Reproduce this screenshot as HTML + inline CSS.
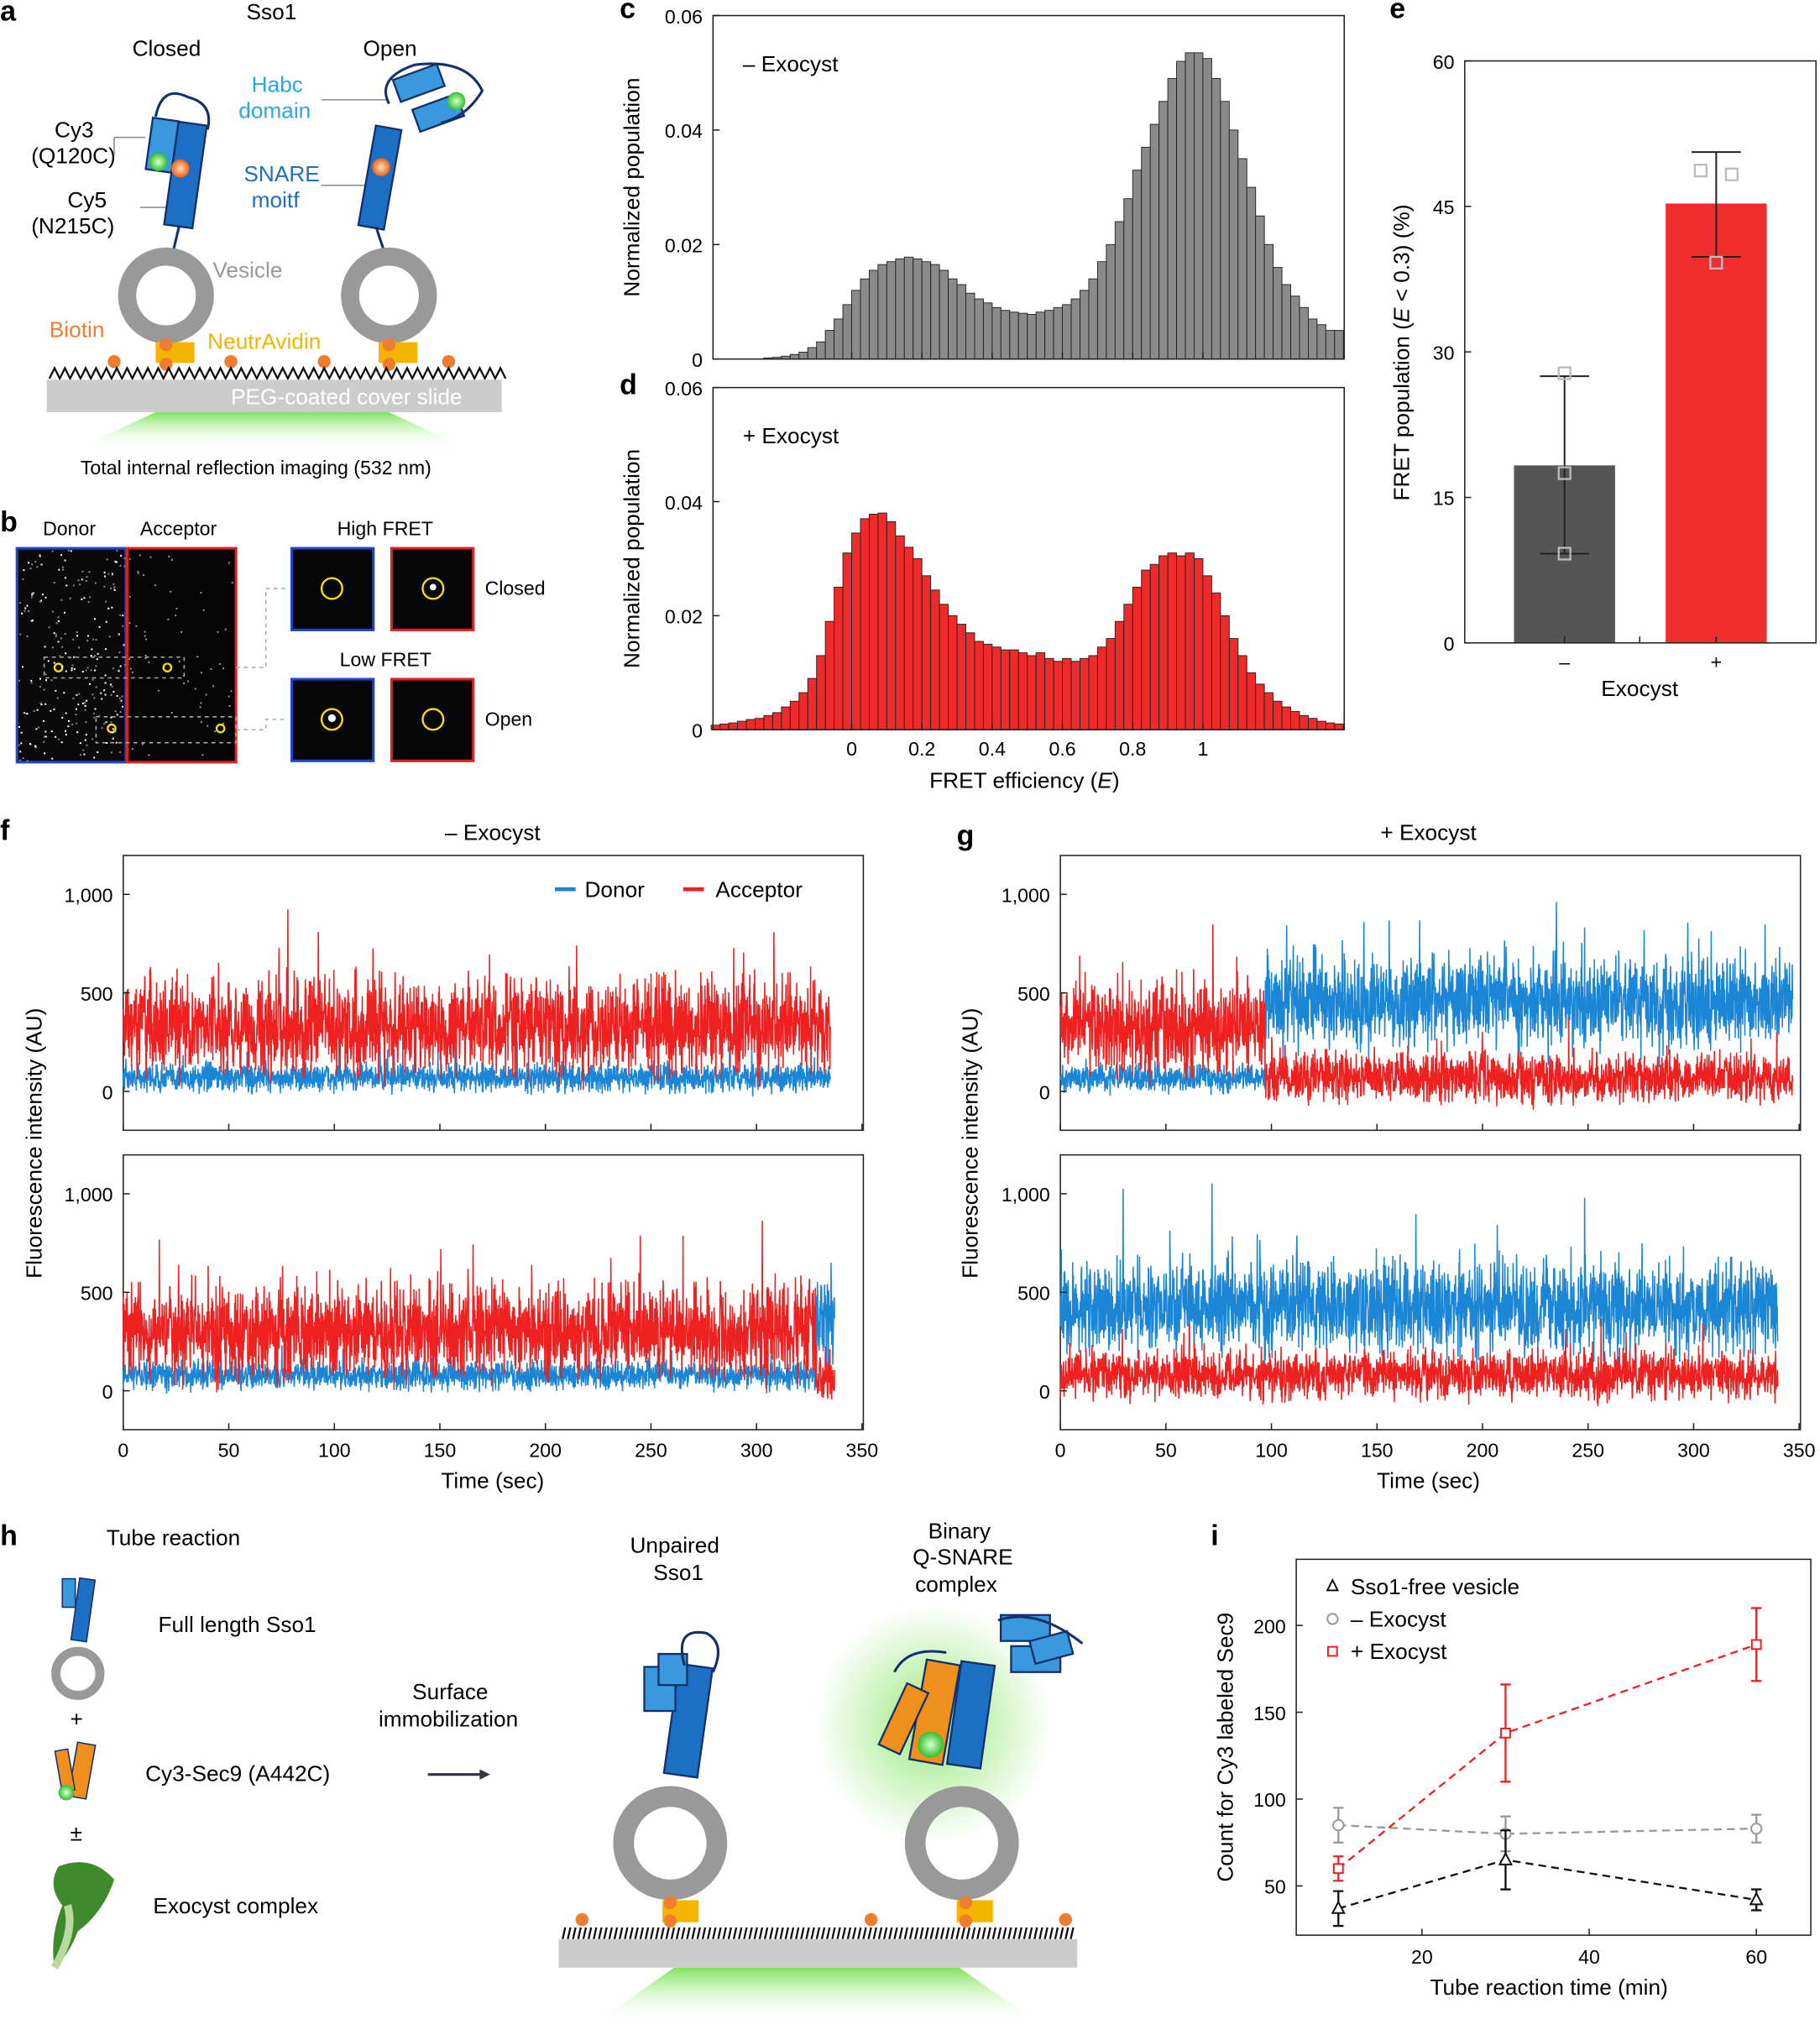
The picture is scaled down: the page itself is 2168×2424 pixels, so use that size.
<!DOCTYPE html>
<html><head><meta charset="utf-8"><style>
html,body{margin:0;padding:0;background:#fff}
svg{display:block;font-family:"Liberation Sans",sans-serif}
</style></head><body>
<svg id="fig" width="2168" height="2424" viewBox="0 0 1404 1570" xmlns="http://www.w3.org/2000/svg">
<defs>
<linearGradient id="tir" x1="0" y1="0" x2="0" y2="1"><stop offset="0" stop-color="#7de35a"/><stop offset="1" stop-color="#fff" stop-opacity="0"/></linearGradient>
<radialGradient id="glow"><stop offset="0" stop-color="#7de35a" stop-opacity=".8"/><stop offset="1" stop-color="#7de35a" stop-opacity="0"/></radialGradient>
<radialGradient id="gdot"><stop offset="0" stop-color="#dfffd0"/><stop offset="1" stop-color="#2fbf2f"/></radialGradient>
<radialGradient id="odot"><stop offset="0" stop-color="#ffe0c0"/><stop offset="1" stop-color="#f06010"/></radialGradient>
</defs>
<g font-size="17" fill="#000">
<text x="0" y="16" font-weight="bold" font-size="22">a</text>
<text x="0" y="410" font-weight="bold" font-size="22">b</text>
<text x="478" y="14" font-weight="bold" font-size="22">c</text>
<text x="478" y="304" font-weight="bold" font-size="22">d</text>
<text x="1072" y="14" font-weight="bold" font-size="22">e</text>
<text x="0" y="648" font-weight="bold" font-size="22">f</text>
<text x="738" y="652" font-weight="bold" font-size="22">g</text>
<text x="0" y="1192" font-weight="bold" font-size="22">h</text>
<text x="934" y="1192" font-weight="bold" font-size="22">i</text>
</g>

<g font-size="17">
<text x="190" y="15">Sso1</text>
<text x="102" y="43">Closed</text><text x="280" y="43">Open</text>
<text x="42" y="106">Cy3</text><text x="24" y="126">(Q120C)</text>
<text x="52" y="160">Cy5</text><text x="24" y="180">(N215C)</text>
<text x="194" y="71" fill="#29a8e0">Habc</text><text x="184" y="91" fill="#29a8e0">domain</text>
<text x="188" y="140" fill="#1c6fc4">SNARE</text><text x="194" y="160" fill="#1c6fc4">moitf</text>
<text x="164" y="214" fill="#999">Vesicle</text>
<text x="38" y="260" fill="#f07c30">Biotin</text>
<text x="160" y="269" fill="#f5b400">NeutrAvidin</text>
<path d="M88 106H112M88 106V120 M108 160H132V130 M248 77H300 M248 143H284" stroke="#888" fill="none"/>
<g fill="#1c6fc4" stroke="#13306a" stroke-width="1.5">
<rect x="132" y="95" width="22" height="80" transform="rotate(8 143 135)"/>
<rect x="115" y="92" width="20" height="40" transform="rotate(8 125 112)" fill="#3a98dc"/>
<rect x="283" y="98" width="20" height="78" transform="rotate(10 293 137)"/>
<rect x="305" y="55" width="36" height="18" transform="rotate(-20 323 64)" fill="#3a98dc"/>
<rect x="320" y="78" width="36" height="18" transform="rotate(-20 338 87)" fill="#3a98dc"/>
</g>
<path d="M120 90 Q125 65 145 75 Q165 80 160 100 M300 80 Q290 60 320 50 Q360 45 372 70 Q360 90 340 95" stroke="#13306a" stroke-width="2" fill="none"/>
<circle cx="122" cy="125" r="7" fill="url(#gdot)"/><circle cx="139" cy="130" r="7" fill="url(#odot)"/>
<circle cx="352" cy="78" r="7" fill="url(#gdot)"/><circle cx="294" cy="129" r="7" fill="url(#odot)"/>
<line x1="138" y1="175" x2="133" y2="196" stroke="#13306a" stroke-width="2"/><line x1="290" y1="175" x2="297" y2="196" stroke="#13306a" stroke-width="2"/>
<circle cx="128" cy="228" r="30" fill="none" stroke="#999" stroke-width="14"/>
<circle cx="300" cy="228" r="30" fill="none" stroke="#999" stroke-width="14"/>
<rect x="120" y="264" width="30" height="16" fill="#f5b400"/><rect x="292" y="264" width="30" height="16" fill="#f5b400"/>
<g fill="#f07c30"><circle cx="128" cy="266" r="5"/><circle cx="128" cy="281" r="5"/><circle cx="300" cy="266" r="5"/><circle cx="300" cy="281" r="5"/><circle cx="88" cy="279" r="5"/><circle cx="178" cy="279" r="5"/><circle cx="250" cy="279" r="5"/><circle cx="346" cy="279" r="5"/></g>
<path id="grassA" d="" stroke="#111" stroke-width="1.5" fill="none"/>
<rect x="36" y="293" width="351" height="25" fill="#ccc"/>
<text x="178" y="312" fill="#fff">PEG-coated cover slide</text>
<polygon points="60,346 120,318 300,318 360,346" fill="url(#tir)"/>
<text x="62" y="366" font-size="15">Total internal reflection imaging (532 nm)</text>
</g>

<g font-size="15">
<text x="33" y="413">Donor</text><text x="108" y="413">Acceptor</text>
<text x="260" y="413">High FRET</text><text x="262" y="514">Low FRET</text>
<text x="374" y="459">Closed</text><text x="374" y="560">Open</text>
<rect x="13" y="423" width="84" height="165" fill="#0a0a0a" stroke="#2244cc" stroke-width="2"/>
<rect x="98" y="423" width="84" height="165" fill="#050505" stroke="#e02020" stroke-width="2"/>
<rect x="225" y="423" width="63" height="63" fill="#050505" stroke="#2244cc" stroke-width="2"/>
<rect x="302" y="423" width="63" height="63" fill="#050505" stroke="#e02020" stroke-width="2"/>
<rect x="225" y="524" width="63" height="63" fill="#050505" stroke="#2244cc" stroke-width="2"/>
<rect x="302" y="524" width="63" height="63" fill="#050505" stroke="#e02020" stroke-width="2"/>
<g fill="none" stroke="#ffe000" stroke-width="1.5"><circle cx="256" cy="454" r="8"/><circle cx="334" cy="454" r="8"/><circle cx="256" cy="555" r="8"/><circle cx="334" cy="555" r="8"/><circle cx="45" cy="515" r="3"/><circle cx="129" cy="515" r="3"/><circle cx="86" cy="562" r="3"/><circle cx="170" cy="562" r="3"/></g>
<g fill="none" stroke="#aaa" stroke-dasharray="3 3"><rect x="34" y="507" width="108" height="16"/><rect x="74" y="553" width="108" height="20"/><path d="M182 515H205V454H222 M182 563H205V555H222"/></g>
<g id="stars" fill="#ddd"></g>
<circle cx="256" cy="554" r="3" fill="#fff"/><circle cx="334" cy="453" r="2.5" fill="#fff"/>
</g>

<g id="charts"></g>

<g font-size="17">
<text x="82" y="1192">Tube reaction</text>
<text x="122" y="1259">Full length Sso1</text>
<text x="112" y="1374">Cy3-Sec9 (A442C)</text>
<text x="118" y="1476">Exocyst complex</text>
<text x="54" y="1332">+</text><text x="54" y="1420">±</text>
<text x="318" y="1311">Surface</text><text x="292" y="1332">immobilization</text>
<line x1="330" y1="1369" x2="372" y2="1369" stroke="#334" stroke-width="2"/><polygon points="378,1369 370,1365 370,1373" fill="#334"/>
<text x="486" y="1198">Unpaired</text><text x="504" y="1219">Sso1</text>
<text x="716" y="1187">Binary</text><text x="704" y="1207">Q-SNARE</text><text x="706" y="1228">complex</text>
<circle cx="60" cy="1291" r="17" fill="none" stroke="#999" stroke-width="7"/>
<g fill="#1c6fc4" stroke="#13306a"><rect x="58" y="1218" width="12" height="48" transform="rotate(8 64 1242)"/><rect x="48" y="1218" width="10" height="22" fill="#3a98dc"/></g>
<g fill="#f0901c" stroke="#13306a"><rect x="56" y="1345" width="14" height="42" transform="rotate(10 63 1366)"/><rect x="45" y="1350" width="10" height="32" transform="rotate(-10 50 1366)"/></g>
<circle cx="51" cy="1383" r="6" fill="url(#gdot)"/>
<path d="M45 1440 Q70 1430 88 1450 Q80 1475 60 1490 Q52 1510 42 1518 Q38 1495 48 1470 Q36 1455 45 1440Z" fill="#3f8a2c"/>
<path d="M52 1470 Q58 1490 42 1518" stroke="#b8d9a0" stroke-width="6" fill="none"/>
<circle cx="720" cy="1330" r="92" fill="url(#glow)"/>
<g fill="#1c6fc4" stroke="#13306a" stroke-width="1.5">
<rect x="518" y="1285" width="26" height="85" transform="rotate(8 531 1327)"/>
<rect x="497" y="1286" width="24" height="34" fill="#3a98dc"/><rect x="508" y="1276" width="22" height="24" fill="#3a98dc"/>
<rect x="736" y="1283" width="26" height="80" transform="rotate(8 749 1323)"/>
<rect x="772" y="1246" width="38" height="20" fill="#3a98dc"/><rect x="780" y="1270" width="38" height="20" fill="#3a98dc"/><rect x="796" y="1262" width="30" height="18" transform="rotate(-15 811 1271)" fill="#3a98dc"/>
</g>
<g fill="#f0901c" stroke="#13306a" stroke-width="1.5"><rect x="708" y="1282" width="26" height="78" transform="rotate(10 721 1321)"/><rect x="688" y="1300" width="18" height="52" transform="rotate(25 697 1326)"/></g>
<circle cx="718" cy="1346" r="10" fill="url(#gdot)"/>
<path d="M528 1285 Q520 1255 545 1260 Q560 1268 550 1290 M690 1290 Q700 1270 730 1275 M770 1250 Q800 1240 835 1268" stroke="#13306a" stroke-width="2" fill="none"/>
<circle cx="517" cy="1422" r="36" fill="none" stroke="#999" stroke-width="16"/>
<circle cx="742" cy="1422" r="36" fill="none" stroke="#999" stroke-width="16"/>
<rect x="511" y="1466" width="28" height="17" fill="#f5b400"/><rect x="738" y="1466" width="28" height="17" fill="#f5b400"/>
<g fill="#f07c30"><circle cx="517" cy="1468" r="5"/><circle cx="517" cy="1482" r="5"/><circle cx="745" cy="1468" r="5"/><circle cx="745" cy="1482" r="5"/><circle cx="449" cy="1481" r="5"/><circle cx="672" cy="1481" r="5"/><circle cx="822" cy="1481" r="5"/></g>
<path id="grass" d="" stroke="#111" stroke-width="1.5" fill="none"/>
<rect x="431" y="1496" width="400" height="22" fill="#ccc"/>
<polygon points="460,1560 520,1518 740,1518 800,1560" fill="url(#tir)"/>
</g>
</svg>
<script>
const histBinStart = -0.4, histBinWidth = 0.025;
const histMinus = [0,0,0,0,0,0,0.0002,0.0003,0.0005,0.0008,0.0012,0.002,0.003,0.005,0.007,0.0095,0.012,0.014,0.0155,0.0165,0.017,0.0175,0.0178,0.0175,0.017,0.0165,0.0155,0.014,0.013,0.0115,0.0105,0.0098,0.009,0.0085,0.0082,0.008,0.0078,0.0082,0.0085,0.009,0.0095,0.0105,0.012,0.014,0.017,0.02,0.024,0.028,0.033,0.037,0.041,0.045,0.049,0.052,0.0535,0.0535,0.0525,0.049,0.045,0.04,0.035,0.03,0.025,0.02,0.016,0.013,0.011,0.009,0.007,0.006,0.005,0.005];
const histPlus = [0.0008,0.001,0.0012,0.0015,0.0018,0.002,0.0025,0.003,0.004,0.005,0.0065,0.009,0.013,0.019,0.025,0.031,0.0345,0.037,0.0378,0.038,0.0365,0.034,0.032,0.03,0.027,0.0245,0.022,0.02,0.0185,0.017,0.0155,0.015,0.0145,0.014,0.014,0.0135,0.013,0.0135,0.0125,0.012,0.0125,0.012,0.0125,0.013,0.0145,0.016,0.019,0.022,0.025,0.028,0.029,0.0305,0.031,0.0305,0.031,0.03,0.027,0.024,0.02,0.016,0.013,0.01,0.008,0.0065,0.005,0.004,0.0032,0.0025,0.002,0.0015,0.0012,0.001];
const histYTicks = [0,0.02,0.04,0.06];
const histYTickLabels = ["0","0.02","0.04","0.06"];
const histXTicks = [0,0.2,0.4,0.6,0.8,1];
const histXTickLabels = ["0","0.2","0.4","0.6","0.8","1"];

const eCategories = ["–","+"];
const eMeans = [18.3,45.3];
const eErrLow = [9.2,39.8];
const eErrHigh = [27.5,50.6];
const ePointsMinus = [27.8,17.5,9.2];
const ePointsPlus = [48.7,48.3,39.2];
const eYTicks = [0,15,30,45,60];

const traceF1 = [[0,335,70,330]];
const traceF2 = [[0,328,80,300],[328,337,350,50]];
const traceG1 = [[0,97,70,330],[97,347,450,70]];
const traceG2 = [[0,340,430,80]];
const traceXTicks = [0,50,100,150,200,250,300,350];
const traceYTicks = [0,500,1000];
const traceYTickLabels = ["0","500","1,000"];

const iTimes = [10,30,60];
const iFree = [37,65,42], iFreeErr = [10,17,6];
const iMinus = [85,80,83], iMinusErr = [10,10,8];
const iPlus = [60,138,189], iPlusErr = [7,28,21];
const iXTicks = [20,40,60];
const iYTicks = [50,100,150,200];

const NS="http://www.w3.org/2000/svg";
const root=document.getElementById('charts');
function el(tag,attrs,parent,txt){const e=document.createElementNS(NS,tag);for(const k in attrs)e.setAttribute(k,attrs[k]);if(txt!==undefined)e.textContent=txt;(parent||root).appendChild(e);return e;}

(function(){let s=7;function r(){s=(s*16807)%2147483647;return s/2147483647;}
const g=document.getElementById('stars');
for(let i=0;i<260;i++){const x=14+r()*82,y=424+r()*163;el('rect',{x:x,y:y,width:1.3,height:1.3,fill:r()>0.5?'#fff':'#888'},g);}
for(let i=0;i<60;i++){const x=99+r()*82,y=424+r()*163;el('rect',{x:x,y:y,width:1.2,height:1.2,fill:'#aaa'},g);}
let d='';for(let x=434;x<830;x+=4){d+=`M${x} 1496l2 -9`;}document.getElementById('grass').setAttribute('d',d);
let d2='M38 292';for(let x=38;x<384;x+=8){d2+=` l4 -8 l4 8`;}document.getElementById('grassA').setAttribute('d',d2);})();

function hist(data,top,bottom,color,name,label,showX){
  const x0=550,x1=1037,g=el('g',{});
  
  
  const xs=v=>657+(v)*271, ys=v=>bottom-(v/0.06)*(bottom-top);
  data.forEach((v,i)=>{const a=xs(histBinStart+i*histBinWidth),b=xs(histBinStart+(i+1)*histBinWidth);
    const r=el('rect',{x:a,y:ys(v),width:b-a,height:bottom-ys(v),fill:color,stroke:'#222','stroke-width':0.6},g);
    
    });
  el('rect',{x:x0,y:top,width:x1-x0,height:bottom-top,fill:'none',stroke:'#222','stroke-width':1},g);
  histYTicks.forEach((t,i)=>{el('line',{x1:x0,x2:x0+5,y1:ys(t),y2:ys(t),stroke:'#222'},g);
    const tx=el('text',{x:x0-8,y:ys(t)+6,'text-anchor':'end','font-size':15},g,histYTickLabels[i]);
    
    });
  histXTicks.forEach((t,i)=>{el('line',{x1:xs(t),x2:xs(t),y1:bottom,y2:bottom-5,stroke:'#222'},g);
    if(showX){const tx=el('text',{x:xs(t),y:bottom+20,'text-anchor':'middle','font-size':15},g,histXTickLabels[i]);
    
    }});
  const lt=el('text',{x:573,y:top+43,'font-size':17},g,label);
  
  
  const yt=el('text',{x:0,y:0,'font-size':17,'text-anchor':'middle',transform:`translate(493 ${(top+bottom)/2}) rotate(-90)`},g,'Normalized population');
  
  
}
hist(histMinus,12,277,'#8a8a8a','histogram-minus-exocyst','– Exocyst',false);
hist(histPlus,299,563,'#ee2a2a','histogram-plus-exocyst','+ Exocyst',true);
{const t=el('text',{x:717,y:608,'font-size':17},root);t.innerHTML='FRET efficiency (<tspan font-style="italic">E</tspan>)';

}

(function(){const g=el('g',{});


const x0=1130,x1=1401,top=47,bot=496,ys=v=>bot-v/60*(bot-top);
const cx=[1207,1324],colors=['#555','#f02e2e'],pts=[ePointsMinus,ePointsPlus];
eMeans.forEach((m,i)=>{const b=el('rect',{x:cx[i]-39,y:ys(m),width:78,height:bot-ys(m),fill:colors[i]},g);
 
 
 el('path',{d:`M${cx[i]} ${ys(eErrLow[i])}V${ys(eErrHigh[i])}M${cx[i]-19} ${ys(eErrLow[i])}h38M${cx[i]-19} ${ys(eErrHigh[i])}h38`,stroke:'#222','stroke-width':1.3,fill:'none'},g);
 pts[i].forEach((p,j)=>{const dx=i?[-12,12,0][j]:[0,0,0][j];const r=el('rect',{x:cx[i]+dx-4.5,y:ys(p)-4.5,width:9,height:9,fill:'none',stroke:'#bbb','stroke-width':1.5},g);
  
  });
 el('line',{x1:cx[i],x2:cx[i],y1:bot,y2:bot-5,stroke:'#222'},g);
 el('text',{x:cx[i],y:bot+20,'text-anchor':'middle','font-size':15},g,eCategories[i]);});
el('rect',{x:x0,y:top,width:x1-x0,height:bot-top,fill:'none',stroke:'#222'},g);
eYTicks.forEach(t=>{el('line',{x1:x0,x2:x0+5,y1:ys(t),y2:ys(t),stroke:'#222'},g);
 const tx=el('text',{x:x0-8,y:ys(t)+6,'text-anchor':'end','font-size':15},g,String(t));
 
 });
el('line',{x1:1265,x2:1265,y1:bot,y2:bot-5,stroke:'#222'},g);
el('text',{x:1265,y:537,'text-anchor':'middle','font-size':17},g,'Exocyst');
const yt=el('text',{'font-size':17,'text-anchor':'middle',transform:'translate(1087 272) rotate(-90)'},g);
yt.innerHTML='FRET population (<tspan font-style="italic">E</tspan> &lt; 0.3) (%)';

})();

let seed=12345;function rnd(){seed=(seed*16807)%2147483647;return seed/2147483647;}
function noise(amp){let u=rnd()+rnd()+rnd()-1.5;let v=u*amp;if(rnd()<0.012)v+=amp*(0.6+rnd()*1.3);return v;}
function traces(segs,x0,top,bot,zeroY,name,showX){
  const g=el('g',{});
  
  
  const xs=t=>x0+t*(570/350), ys=v=>zeroY-v*0.152;
  el('rect',{x:x0,y:top,width:571,height:bot-top,fill:'none',stroke:'#222'},g);
  ['donor','acceptor'].forEach(kind=>{let d='';
   segs.forEach(s=>{const lv=kind==='donor'?s[2]:s[3];for(let t=s[0];t<s[1];t+=0.15){const v=lv+noise(lv>200?230:(kind==='donor'?70:120));d+=(d?'L':'M')+xs(t).toFixed(1)+' '+ys(v).toFixed(1);}});
   const p=el('path',{d:d,fill:'none',stroke:kind==='donor'?'#1b86d6':'#ee2020','stroke-width':1},g);
   
   });
  traceYTicks.forEach((t,i)=>{el('line',{x1:x0,x2:x0+5,y1:ys(t),y2:ys(t),stroke:'#222'},g);
   const tx=el('text',{x:x0-8,y:ys(t)+6,'text-anchor':'end','font-size':15},g,traceYTickLabels[i]);
   
   });
  traceXTicks.forEach(t=>{el('line',{x1:xs(t),x2:xs(t),y1:bot,y2:bot-5,stroke:'#222'},g);
   if(showX){const tx=el('text',{x:xs(t),y:bot+21,'text-anchor':'middle','font-size':15},g,String(t));
   
   }});
}
traces(traceF1,95,660,872,842,'trace-f-top',false);
traces(traceF2,95,891,1103,1073,'trace-f-bottom',true);
traces(traceG1,818,660,872,842,'trace-g-top',false);
traces(traceG2,818,891,1103,1073,'trace-g-bottom',true);
[['– Exocyst',380],['+ Exocyst',1102]].forEach(a=>{const t=el('text',{x:a[1],y:648,'text-anchor':'middle','font-size':17},root,a[0]);

});
[['Time (sec)',380],['Time (sec)',1102]].forEach(a=>{const t=el('text',{x:a[1],y:1148,'text-anchor':'middle','font-size':17},root,a[0]);

});
[32,754].forEach(x=>{const t=el('text',{'font-size':17,'text-anchor':'middle',transform:`translate(${x} 882) rotate(-90)`},root,'Fluorescence intensity (AU)');

});
{const g=el('g',{});


el('line',{x1:428,x2:444,y1:686,y2:686,stroke:'#1b86d6','stroke-width':3},g);el('text',{x:451,y:692,'font-size':17},g,'Donor');
el('line',{x1:527,x2:543,y1:686,y2:686,stroke:'#ee2020','stroke-width':3},g);el('text',{x:552,y:692,'font-size':17},g,'Acceptor');}

(function(){const g=el('g',{});


const x0=1000,x1=1397,top=1203,bot=1493,xs=t=>1097+(t-20)*6.45,ys=v=>1522-v*1.34;
el('rect',{x:x0,y:top,width:x1-x0,height:bot-top,fill:'none',stroke:'#222'},g);
iXTicks.forEach(t=>{el('line',{x1:xs(t),x2:xs(t),y1:bot,y2:bot-5,stroke:'#222'},g);el('text',{x:xs(t),y:bot+22,'text-anchor':'middle','font-size':15},g,String(t));});
iYTicks.forEach(t=>{el('line',{x1:x0,x2:x0+5,y1:ys(t),y2:ys(t),stroke:'#222'},g);el('text',{x:x0-8,y:ys(t)+6,'text-anchor':'end','font-size':15},g,String(t));});
const series=[[iMinus,iMinusErr,'#999','circle','series-minus-exocyst'],[iFree,iFreeErr,'#111','tri','series-sso1-free'],[iPlus,iPlusErr,'#ee2020','square','series-plus-exocyst']];
series.forEach(s=>{const sg=el('g',{},g);
 
 
 el('polyline',{points:iTimes.map((t,i)=>xs(t)+','+ys(s[0][i])).join(' '),fill:'none',stroke:s[2],'stroke-width':1.5,'stroke-dasharray':'6 4'},sg);
 iTimes.forEach((t,i)=>{const x=xs(t),y=ys(s[0][i]),lo=ys(s[0][i]-s[1][i]),hi=ys(s[0][i]+s[1][i]);
  el('path',{d:`M${x} ${lo}V${hi}M${x-4} ${lo}h8M${x-4} ${hi}h8`,stroke:s[2],'stroke-width':1.5,fill:'none'},sg);
  let m;if(s[3]==='circle')m=el('circle',{cx:x,cy:y,r:4,fill:'#fff',stroke:s[2],'stroke-width':1.3},sg);
  else if(s[3]==='square')m=el('rect',{x:x-3.5,y:y-3.5,width:7,height:7,fill:'#fff',stroke:s[2],'stroke-width':1.3},sg);
  else m=el('polygon',{points:`${x},${y-5} ${x-4.5},${y+3.5} ${x+4.5},${y+3.5}`,fill:'#fff',stroke:s[2],'stroke-width':1.3},sg);
  
  });});
const lg=el('g',{},g);


el('polygon',{points:'1028,1219 1024,1227 1032,1227',fill:'none',stroke:'#111','stroke-width':1.3},lg);el('text',{x:1042,y:1230,'font-size':17},lg,'Sso1-free vesicle');
el('circle',{cx:1028,cy:1249,r:4,fill:'none',stroke:'#999','stroke-width':1.3},lg);el('text',{x:1042,y:1255,'font-size':17},lg,'– Exocyst');
el('rect',{x:1024.5,y:1270.5,width:7,height:7,fill:'none',stroke:'#ee2020','stroke-width':1.3},lg);el('text',{x:1042,y:1280,'font-size':17},lg,'+ Exocyst');
el('text',{x:1195,y:1539,'text-anchor':'middle','font-size':17},g,'Tube reaction time (min)');
el('text',{'font-size':17,'text-anchor':'middle',transform:'translate(951 1348) rotate(-90)'},g,'Count for Cy3 labeled Sec9');})();
</script>
</body></html>
